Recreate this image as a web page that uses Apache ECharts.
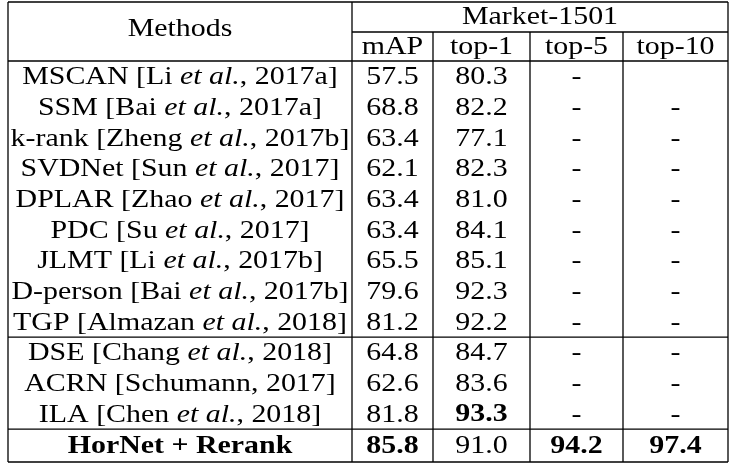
<!DOCTYPE html>
<html><head><meta charset="utf-8">
<script src="https://cdn.jsdelivr.net/npm/echarts@6/dist/echarts.min.js"></script>
<style>html,body{margin:0;padding:0;background:#fff}#main{width:731px;height:467px}</style>
</head><body><div id="main"></div>
<script>
// table content
var methods = ['MSCAN', 'SSM', 'k-rank', 'SVDNet', 'DPLAR', 'PDC', 'JLMT', 'D-person', 'TGP', 'DSE', 'ACRN', 'ILA', 'HorNet + Rerank'];
var authors = ['Li', 'Bai', 'Zheng', 'Sun', 'Zhao', 'Su', 'Li', 'Bai', 'Almazan', 'Chang', 'Schumann', 'Chen', ''];
var etAl = [true, true, true, true, true, true, true, true, true, true, false, true, false];
var years = ['2017a', '2017a', '2017b', '2017', '2017', '2017', '2017b', '2017b', '2018', '2018', '2017', '2018', ''];
var mAP = ['57.5', '68.8', '63.4', '62.1', '63.4', '63.4', '65.5', '79.6', '81.2', '64.8', '62.6', '81.8', '85.8'];
var top1 = ['80.3', '82.2', '77.1', '82.3', '81.0', '84.1', '85.1', '92.3', '92.2', '84.7', '83.6', '93.3', '91.0'];
var top5 = ['-', '-', '-', '-', '-', '-', '-', '-', '-', '-', '-', '-', '94.2'];
var top10 = ['', '-', '-', '-', '-', '-', '-', '-', '-', '-', '-', '-', '97.4'];
var boldCells = [[12, 0], [12, 1], [12, 3], [12, 4], [11, 2]]; // [row, col]
var colHeaders = ['mAP', 'top-1', 'top-5', 'top-10'];

// layout (pixel units on the hidden axes)
var colEdges = [8, 352, 433, 530, 623, 728];
var rowEdges = [61];
for (var i = 1; i <= 12; i++) rowEdges.push(61 + i * 30.67);
rowEdges.push(462);

function isBold(r, c) {
    return boldCells.some(function (b) { return b[0] === r && b[1] === c; });
}

var cells = [];
methods.forEach(function (m, r) {
    var txt;
    if (!authors[r]) txt = m;
    else if (etAl[r]) txt = m + ' [' + authors[r] + ' {i|et al.}, ' + years[r] + ']';
    else txt = m + ' [' + authors[r] + ', ' + years[r] + ']';
    cells.push({ value: [(colEdges[0] + colEdges[1]) / 2, (rowEdges[r] + rowEdges[r + 1]) / 2 + 1], text: txt, bold: r === 12 });
    [mAP, top1, top5, top10].forEach(function (arr, c) {
        cells.push({ value: [(colEdges[c + 1] + colEdges[c + 2]) / 2, (rowEdges[r] + rowEdges[r + 1]) / 2 + 1], text: arr[r], bold: isBold(r, c + 1) });
    });
});
// headers
cells.push({ value: [(colEdges[0] + colEdges[1]) / 2, 29], text: 'Methods' });
cells.push({ value: [(colEdges[1] + colEdges[5]) / 2, 17], text: 'Market-1501' });
colHeaders.forEach(function (h, c) {
    cells.push({ value: [(colEdges[c + 1] + colEdges[c + 2]) / 2, 47], text: h });
});

var lines = [
    [8, 2, 728, 2], [352, 32, 728, 32], [8, 61, 728, 61],
    [8, rowEdges[9], 728, rowEdges[9]], [8, rowEdges[12], 728, rowEdges[12]], [8, 462, 728, 462],
    [8, 2, 8, 462], [352, 2, 352, 462], [728, 2, 728, 462]
];
[2, 3, 4].forEach(function (k) { lines.push([colEdges[k], 32, colEdges[k], 462]); });

var font = 'Liberation Serif';
var myChart = echarts.init(document.getElementById('main'));
myChart.setOption({
    animation: false,
    grid: { left: 0, right: 0, top: 0, bottom: 0 },
    xAxis: { type: 'value', min: 0, max: 731, show: false },
    yAxis: { type: 'value', min: 0, max: 467, inverse: true, show: false },
    series: [{
        type: 'custom',
        data: lines,
        renderItem: function (params, api) {
            var a = api.coord([api.value(0), api.value(1)]);
            var b = api.coord([api.value(2), api.value(3)]);
            return { type: 'line', shape: { x1: a[0], y1: a[1], x2: b[0], y2: b[1] }, style: { stroke: '#000', lineWidth: 1.3 } };
        }
    }, {
        type: 'custom',
        data: cells,
        renderItem: function (params, api) {
            var d = cells[params.dataIndex];
            var p = api.coord([api.value(0), api.value(1)]);
            var w = d.bold ? 'bold' : 'normal';
            return {
                type: 'text',
                x: p[0], y: p[1], scaleX: 1.15,
                style: {
                    x: 0, y: 0, text: d.text, align: 'center', verticalAlign: 'middle',
                    font: w + ' 26px "' + font + '"', fill: '#000',
                    rich: { i: { fontStyle: 'italic', fontFamily: font, fontSize: 26, fill: '#000' } }
                }
            };
        }
    }]
});
</script>
</body></html>
